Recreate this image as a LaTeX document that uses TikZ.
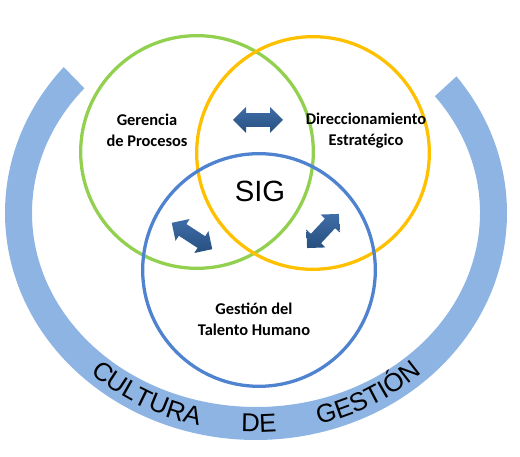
\documentclass[tikz,border=0pt]{standalone}
\usepackage{fontspec}
\setmainfont{Carlito}
\newfontfamily\arialfont{Liberation Sans}
\usetikzlibrary{shapes.arrows, decorations.text, calc}
\definecolor{sigGreen}{HTML}{92D050}
\definecolor{sigOrange}{HTML}{FFC000}
\definecolor{sigBlue}{HTML}{4F83CF}
\definecolor{bandBlue}{HTML}{8EB4E3}
\definecolor{arrowLight}{HTML}{6A9AD4}
\definecolor{arrowMid}{HTML}{3F6DA8}
\definecolor{arrowDark}{HTML}{27507F}
\tikzset{
    ring/.style={
        circle,
        draw=#1,
        line width=2.8pt,
        minimum size=6.98cm,
        inner sep=0pt
    },
    area/.style={
        font=\bfseries\fontsize{14}{18}\selectfont,
        align=center
    },
    link/.style={
        double arrow,
        double arrow head extend=0.18cm,
        minimum width=0.78cm,
        minimum height=1.5cm,
        inner xsep=0pt,
        inner ysep=0.2cm,
        top color=arrowMid,
        middle color=arrowLight,
        bottom color=arrowDark,
        draw=none
    },
    band/.style={
        fill=bandBlue
    }
}

\begin{document}
\begin{tikzpicture}[x=0.03cm, y=0.03cm]
\useasboundingbox (0,0) rectangle (520,457);

% Culture band
\coordinate (ctr) at (256,244);
\fill[band] ($(ctr)+(140:251 and 227)$) arc[start angle=140, end angle=397, x radius=251, y radius=227]
    -- ($(ctr)+(397:224 and 194)$) arc[start angle=397, end angle=140, x radius=224, y radius=194] -- cycle;
\path[decorate, decoration={text along path,
    text={|\arialfont\fontsize{22}{22}\selectfont|CULTURA DE GESTIÓN},
    text align=fit to path stretching spaces}]
    ($(ctr)+(227:243 and 219)$) arc[start angle=227, end angle=313, x radius=243, y radius=219];

% Circles
\node[ring=sigGreen] (cg) at (197,305) {};
\node[ring=sigOrange] (co) at (313,304) {};
\node[ring=sigBlue] (cb) at (259,187) {};

% Labels
\node[area] (gp) at (147,327) {Gerencia\\de Procesos};
\node[area] (de) at (366,326) {Direccionamiento\\Estratégico};
\node[area] (th) at (254,138) {Gestión del\\Talento Humano};
\node[anchor=base, font=\arialfont\fontsize{25}{30}\selectfont] (sig) at (260,255) {SIG};

% Arrows
\node[link] (a1) at (258,337) {};
\node[link, rotate=-33, minimum height=1.45cm] (a2) at (192,221) {};
\node[link, rotate=47, minimum height=1.4cm] (a3) at (323,226) {};

\end{tikzpicture}
\end{document}
